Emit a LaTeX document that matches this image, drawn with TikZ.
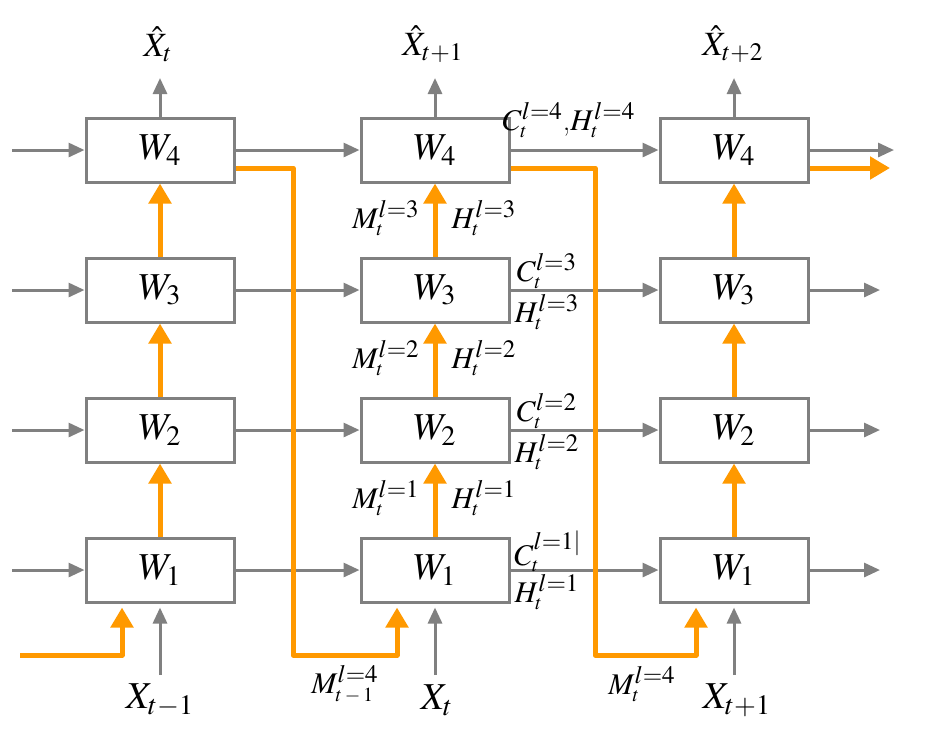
\documentclass[tikz,border=0pt]{standalone}
\usepackage{mathptmx}
\usetikzlibrary{arrows.meta,calc}
\definecolor{gcol}{HTML}{808080}
\definecolor{ocol}{HTML}{FF9900}
\newcommand{\lb}[3]{$#1_{\mbox{\fontsize{10}{11}\selectfont$#2$}}^{\mbox{\fontsize{12.5}{14}\selectfont$#3$}}$}
\tikzset{
  box/.style={draw=gcol, line width=1.5pt, minimum width=74pt, minimum height=32pt, inner sep=0pt, fill=white, font=\fontsize{19}{22}\selectfont},
  garrow/.style={draw=gcol, line width=1.5pt, -{Triangle[length=8pt,width=7pt]}},
  oarrow/.style={draw=ocol, line width=2.5pt, line join=round, -{Triangle[length=10pt,width=11pt]}},
  lab/.style={font=\fontsize{15}{18}\selectfont, inner sep=0pt},
  big/.style={font=\fontsize{19}{22}\selectfont, inner sep=0pt},
  hat/.style={font=\fontsize{17}{20}\selectfont, inner sep=0pt}
}
\begin{document}
\begin{tikzpicture}[x=0.5pt,y=-0.5pt]
\useasboundingbox (0,0) rectangle (930,746);
% boxes
\foreach \c/\x in {A/160,B/435,C/734}{
  \node[box] (\c4) at (\x,150) {$W_4$};
  \node[box] (\c3) at (\x,290) {$W_3$};
  \node[box] (\c2) at (\x,430) {$W_2$};
  \node[box] (\c1) at (\x,570) {$W_1$};
}
% left inputs and right outputs
\foreach \i/\y in {1/570,2/430,3/290,4/150}{
  \coordinate (in\i) at (12,\y);
  \draw[garrow] (in\i) -- (A\i.west);
  \draw[garrow] (A\i.east) -- (B\i.west);
  \draw[garrow] (B\i.east) -- (C\i.west);
}
\foreach \i/\y in {1/570,2/430,3/290}{
  \coordinate (out\i) at (880,\y);
  \draw[garrow] (C\i.east) -- (out\i);
}
\coordinate (out4) at (894,150);
\draw[garrow] (C4.east) -- (out4);
% vertical orange arrows
\foreach \c in {A,B,C}{
  \draw[oarrow] (\c1.north) -- (\c2.south);
  \draw[oarrow] (\c2.north) -- (\c3.south);
  \draw[oarrow] (\c3.north) -- (\c4.south);
}
% top outputs
\node[hat] (hA) at (158,44) {$\hat{X}_t$};
\node[hat] (hB) at (433,44) {$\hat{X}_{t+1}$};
\node[hat] (hC) at (733,44) {$\hat{X}_{t+2}$};
\foreach \c/\x in {A/160,B/435,C/734}{
  \coordinate (top\c) at (\x,78);
  \draw[garrow] (\c4.north) -- (top\c);
}
% bottom inputs
\node[big] (xA) at (160,700) {$X_{t-1}$};
\node[big] (xB) at (437,700) {$X_{t}$};
\node[big] (xC) at (737,700) {$X_{t+1}$};
\foreach \c/\x in {A/160,B/435,C/734}{
  \coordinate (bot\c) at (\x,675);
  \draw[garrow, shorten >=2pt] (bot\c) -- (\c1.south);
}
% orange memory paths
\coordinate (oS) at (20,655);
\coordinate (oA) at (122,655);
\draw[oarrow, shorten >=2pt] (oS) -- (oA) -- (oA |- A1.south);
\coordinate (pA) at (293,655);
\coordinate (qA) at (397,655);
\draw[oarrow, shorten >=2pt] ([yshift=-9pt]A4.east) -| (pA) -- (qA) -- (qA |- B1.south);
\coordinate (pB) at (595,655);
\coordinate (qB) at (696,655);
\draw[oarrow, shorten >=2pt] ([yshift=-9pt]B4.east) -| (pB) -- (qB) -- (qB |- C1.south);
\coordinate (oE) at (890,168);
\draw[oarrow] ([yshift=-9pt]C4.east) -- (oE);
% labels
\node[lab] (l4) at (569,120) {\lb{C}{t}{l{=}4},\lb{H}{t}{l{=}4}};
\node[lab] (m3) at (386,218) {\lb{M}{t}{l{=}3}};
\node[lab] (h3) at (484,218) {\lb{H}{t}{l{=}3}};
\node[lab] (c3) at (547,271) {\lb{C}{t}{l{=}3}};
\node[lab] (g3) at (547,312) {\lb{H}{t}{l{=}3}};
\node[lab] (m2) at (386,358) {\lb{M}{t}{l{=}2}};
\node[lab] (h2) at (484,358) {\lb{H}{t}{l{=}2}};
\node[lab] (c2) at (547,411) {\lb{C}{t}{l{=}2}};
\node[lab] (g2) at (547,452) {\lb{H}{t}{l{=}2}};
\node[lab] (m1) at (386,498) {\lb{M}{t}{l{=}1}};
\node[lab] (h1) at (484,498) {\lb{H}{t}{l{=}1}};
\node[lab] (c1) at (548,551) {\lb{C}{t}{l{=}1|}};
\node[lab] (g1) at (547,592) {\lb{H}{t}{l{=}1}};
\node[lab] (mA) at (345,684) {\lb{M}{t-1}{l{=}4}};
\node[lab] (mB) at (642,684) {\lb{M}{t}{l{=}4}};
\end{tikzpicture}
\end{document}
